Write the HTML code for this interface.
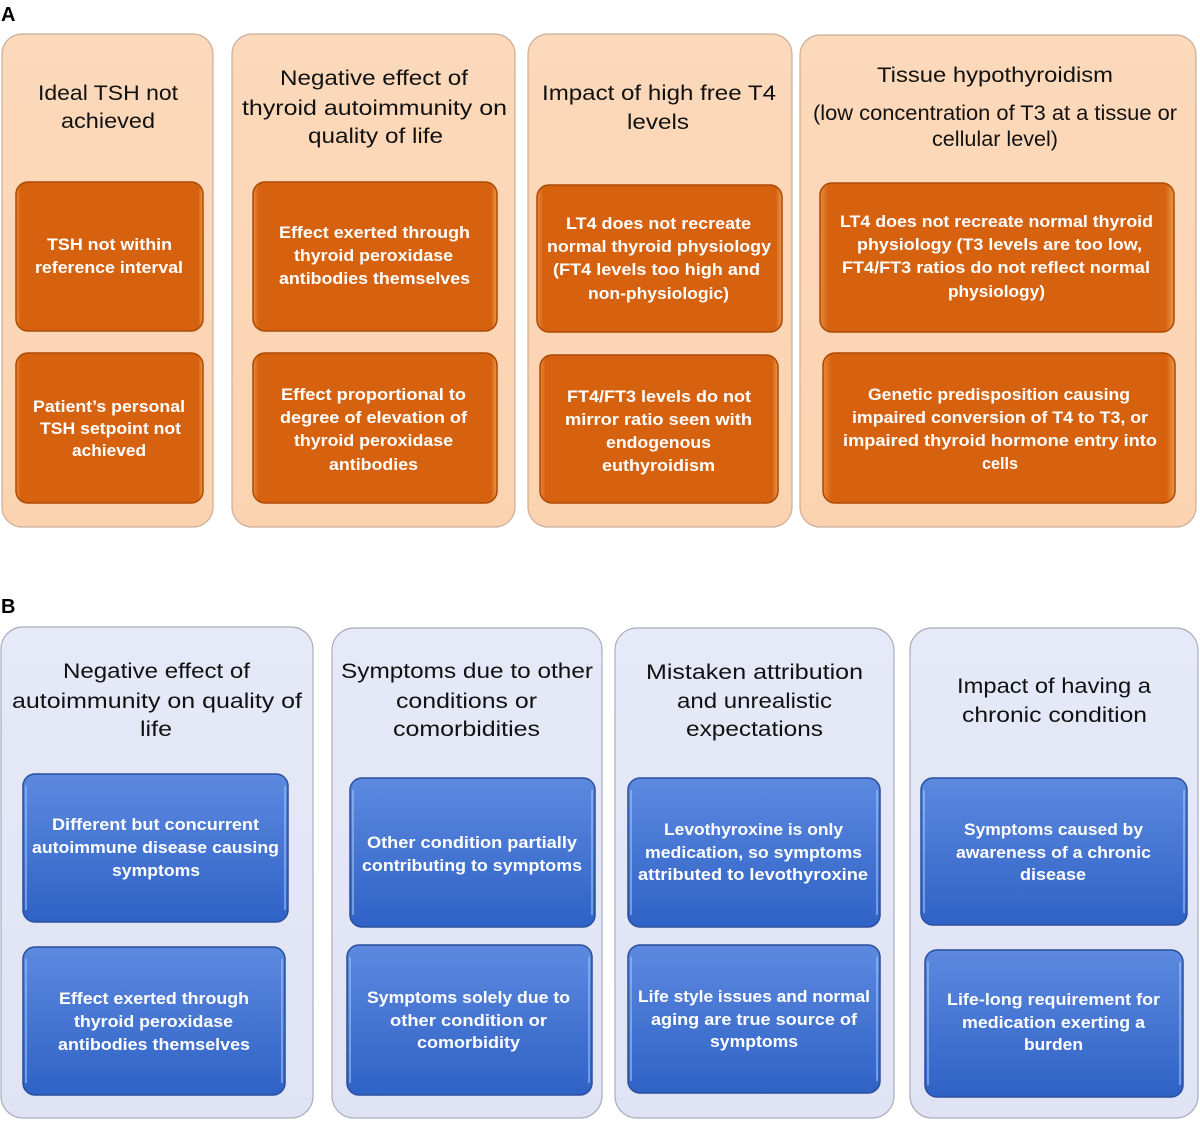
<!DOCTYPE html>
<html><head><meta charset="utf-8"><style>
html,body{margin:0;padding:0;background:#fff;}
svg{display:block;}
.h{font-family:"Liberation Sans",sans-serif;font-size:21px;fill:#111;}
.t{font-family:"Liberation Sans",sans-serif;font-size:17px;font-weight:bold;fill:#fff;}
.lbl{font-family:"Liberation Sans",sans-serif;font-size:20px;font-weight:bold;fill:#000;}
</style></head><body>
<svg width="1200" height="1126" viewBox="0 0 1200 1126" xmlns="http://www.w3.org/2000/svg">
<defs>
<linearGradient id="og" x1="0" y1="0" x2="1" y2="0">
<stop offset="0" stop-color="#e98a3c"/><stop offset="0.025" stop-color="#d6610f"/><stop offset="0.975" stop-color="#d6610f"/><stop offset="1" stop-color="#eb9a48"/>
</linearGradient>
<linearGradient id="bg" x1="0" y1="0" x2="0" y2="1">
<stop offset="0" stop-color="#5d89df"/><stop offset="1" stop-color="#2f62c6"/>
</linearGradient>
<linearGradient id="pg" x1="0" y1="0" x2="0" y2="1">
<stop offset="0" stop-color="#fcd9bb"/><stop offset="1" stop-color="#fbd3b0"/>
</linearGradient>
<linearGradient id="lg" x1="0" y1="0" x2="0" y2="1">
<stop offset="0" stop-color="#e6e9f7"/><stop offset="1" stop-color="#dfe3f4"/>
</linearGradient>
</defs>

<text class="lbl" x="1" y="21">A</text>
<text class="lbl" x="1" y="613">B</text>

<!-- Panel A outer -->
<g fill="url(#pg)" stroke="#c9ad98" stroke-width="1.2">
<rect x="2" y="34" width="211" height="493" rx="20"/>
<rect x="232" y="34" width="283" height="493" rx="20"/>
<rect x="528" y="34" width="264" height="493" rx="20"/>
<rect x="800" y="35" width="396" height="492" rx="20"/>
</g>
<!-- Panel A inner -->
<g fill="url(#og)" stroke="#a94a07" stroke-width="1.5">
<rect x="16" y="182" width="187" height="149" rx="12"/>
<rect x="16" y="353" width="187" height="150" rx="12"/>
<rect x="253" y="182" width="244" height="149" rx="12"/>
<rect x="253" y="353" width="244" height="150" rx="12"/>
<rect x="537" y="185" width="245" height="147" rx="12"/>
<rect x="540" y="355" width="238" height="148" rx="12"/>
<rect x="820" y="183" width="354" height="149" rx="12"/>
<rect x="823" y="353" width="352" height="150" rx="12"/>
</g>

<!-- Panel B outer -->
<g fill="url(#lg)" stroke="#a9adbd" stroke-width="1.2">
<rect x="1" y="627" width="312" height="491" rx="22"/>
<rect x="332" y="628" width="270" height="490" rx="22"/>
<rect x="615" y="628" width="279" height="490" rx="22"/>
<rect x="910" y="628" width="288" height="490" rx="22"/>
</g>
<!-- Panel B inner -->
<g fill="url(#bg)" stroke="#2a4f9c" stroke-width="1.5">
<rect x="23" y="774" width="265" height="148" rx="12"/>
<rect x="23" y="947" width="262" height="148" rx="12"/>
<rect x="350" y="778" width="245" height="149" rx="12"/>
<rect x="347" y="945" width="245" height="150" rx="12"/>
<rect x="628" y="778" width="252" height="149" rx="12"/>
<rect x="628" y="945" width="252" height="148" rx="12"/>
<rect x="921" y="778" width="266" height="147" rx="12"/>
<rect x="925" y="950" width="258" height="147" rx="12"/>
</g>
<g fill="none" stroke="#9cc0f5" stroke-width="1.5" opacity="0.8">
<line x1="26" y1="786" x2="26" y2="910"/><line x1="285" y1="786" x2="285" y2="910"/>
<line x1="26" y1="959" x2="26" y2="1083"/><line x1="282" y1="959" x2="282" y2="1083"/>
<line x1="353" y1="790" x2="353" y2="915"/><line x1="592" y1="790" x2="592" y2="915"/>
<line x1="350" y1="957" x2="350" y2="1083"/><line x1="589" y1="957" x2="589" y2="1083"/>
<line x1="631" y1="790" x2="631" y2="915"/><line x1="877" y1="790" x2="877" y2="915"/>
<line x1="631" y1="957" x2="631" y2="1081"/><line x1="877" y1="957" x2="877" y2="1081"/>
<line x1="924" y1="790" x2="924" y2="913"/><line x1="1184" y1="790" x2="1184" y2="913"/>
<line x1="928" y1="962" x2="928" y2="1085"/><line x1="1180" y1="962" x2="1180" y2="1085"/>
</g>

<g text-anchor="middle" lengthAdjust="spacingAndGlyphs">
<!-- A headers -->
<text class="h" x="108" y="100" textLength="140" lengthAdjust="spacingAndGlyphs">Ideal TSH not</text>
<text class="h" x="108" y="128" textLength="94" lengthAdjust="spacingAndGlyphs">achieved</text>
<text class="h" x="374" y="85" textLength="188" lengthAdjust="spacingAndGlyphs">Negative effect of</text>
<text class="h" x="374.5" y="115" textLength="265" lengthAdjust="spacingAndGlyphs">thyroid autoimmunity on</text>
<text class="h" x="375.5" y="143" textLength="135" lengthAdjust="spacingAndGlyphs">quality of life</text>
<text class="h" x="659" y="100" textLength="234" lengthAdjust="spacingAndGlyphs">Impact of high free T4</text>
<text class="h" x="658" y="129" textLength="62" lengthAdjust="spacingAndGlyphs">levels</text>
<text class="h" x="995" y="82" textLength="236" lengthAdjust="spacingAndGlyphs">Tissue hypothyroidism</text>
<text class="h" x="995" y="120" textLength="364" lengthAdjust="spacingAndGlyphs">(low concentration of T3 at a tissue or</text>
<text class="h" x="995" y="146" textLength="126" lengthAdjust="spacingAndGlyphs">cellular level)</text>

<!-- A inner -->
<text class="t" x="109.5" y="250" textLength="125" lengthAdjust="spacingAndGlyphs">TSH not within</text>
<text class="t" x="109" y="273" textLength="148" lengthAdjust="spacingAndGlyphs">reference interval</text>
<text class="t" x="109" y="412" textLength="152" lengthAdjust="spacingAndGlyphs">Patient’s personal</text>
<text class="t" x="110.5" y="434" textLength="141" lengthAdjust="spacingAndGlyphs">TSH setpoint not</text>
<text class="t" x="109" y="456" textLength="74" lengthAdjust="spacingAndGlyphs">achieved</text>

<text class="t" x="374.5" y="238" textLength="191" lengthAdjust="spacingAndGlyphs">Effect exerted through</text>
<text class="t" x="373.5" y="261" textLength="159" lengthAdjust="spacingAndGlyphs">thyroid peroxidase</text>
<text class="t" x="374.5" y="284" textLength="191" lengthAdjust="spacingAndGlyphs">antibodies themselves</text>
<text class="t" x="373.5" y="400" textLength="185" lengthAdjust="spacingAndGlyphs">Effect proportional to</text>
<text class="t" x="373.5" y="423" textLength="187" lengthAdjust="spacingAndGlyphs">degree of elevation of</text>
<text class="t" x="373.5" y="446" textLength="159" lengthAdjust="spacingAndGlyphs">thyroid peroxidase</text>
<text class="t" x="373.5" y="470" textLength="89" lengthAdjust="spacingAndGlyphs">antibodies</text>

<text class="t" x="658.5" y="229" textLength="185" lengthAdjust="spacingAndGlyphs">LT4 does not recreate</text>
<text class="t" x="659" y="252" textLength="224" lengthAdjust="spacingAndGlyphs">normal thyroid physiology</text>
<text class="t" x="656.5" y="275" textLength="207" lengthAdjust="spacingAndGlyphs">(FT4 levels too high and</text>
<text class="t" x="658.5" y="299" textLength="141" lengthAdjust="spacingAndGlyphs">non-physiologic)</text>
<text class="t" x="659" y="402" textLength="184" lengthAdjust="spacingAndGlyphs">FT4/FT3 levels do not</text>
<text class="t" x="658.5" y="425" textLength="187" lengthAdjust="spacingAndGlyphs">mirror ratio seen with</text>
<text class="t" x="658.5" y="448" textLength="105" lengthAdjust="spacingAndGlyphs">endogenous</text>
<text class="t" x="658.5" y="471" textLength="113" lengthAdjust="spacingAndGlyphs">euthyroidism</text>

<text class="t" x="996.5" y="227" textLength="313" lengthAdjust="spacingAndGlyphs">LT4 does not recreate normal thyroid</text>
<text class="t" x="999.5" y="250" textLength="285" lengthAdjust="spacingAndGlyphs">physiology (T3 levels are too low,</text>
<text class="t" x="996" y="273" textLength="308" lengthAdjust="spacingAndGlyphs">FT4/FT3 ratios do not reflect normal</text>
<text class="t" x="996.5" y="297" textLength="97" lengthAdjust="spacingAndGlyphs">physiology)</text>
<text class="t" x="999" y="400" textLength="262" lengthAdjust="spacingAndGlyphs">Genetic predisposition causing</text>
<text class="t" x="1000" y="423" textLength="296" lengthAdjust="spacingAndGlyphs">impaired conversion of T4 to T3, or</text>
<text class="t" x="1000" y="446" textLength="314" lengthAdjust="spacingAndGlyphs">impaired thyroid hormone entry into</text>
<text class="t" x="1000" y="469" textLength="36" lengthAdjust="spacingAndGlyphs">cells</text>

<!-- B headers -->
<text class="h" x="156.5" y="678" textLength="187" lengthAdjust="spacingAndGlyphs">Negative effect of</text>
<text class="h" x="157" y="708" textLength="290" lengthAdjust="spacingAndGlyphs">autoimmunity on quality of</text>
<text class="h" x="156" y="736" textLength="32" lengthAdjust="spacingAndGlyphs">life</text>
<text class="h" x="467" y="678" textLength="252" lengthAdjust="spacingAndGlyphs">Symptoms due to other</text>
<text class="h" x="466.5" y="708" textLength="141" lengthAdjust="spacingAndGlyphs">conditions or</text>
<text class="h" x="466.5" y="736" textLength="147" lengthAdjust="spacingAndGlyphs">comorbidities</text>
<text class="h" x="754.5" y="679" textLength="217" lengthAdjust="spacingAndGlyphs">Mistaken attribution</text>
<text class="h" x="754.5" y="708" textLength="155" lengthAdjust="spacingAndGlyphs">and unrealistic</text>
<text class="h" x="754.5" y="736" textLength="137" lengthAdjust="spacingAndGlyphs">expectations</text>
<text class="h" x="1054" y="693" textLength="194" lengthAdjust="spacingAndGlyphs">Impact of having a</text>
<text class="h" x="1054.5" y="722" textLength="185" lengthAdjust="spacingAndGlyphs">chronic condition</text>

<!-- B inner -->
<text class="t" x="155.5" y="830" textLength="207" lengthAdjust="spacingAndGlyphs">Different but concurrent</text>
<text class="t" x="155.5" y="853" textLength="247" lengthAdjust="spacingAndGlyphs">autoimmune disease causing</text>
<text class="t" x="156" y="876" textLength="88" lengthAdjust="spacingAndGlyphs">symptoms</text>
<text class="t" x="154" y="1004" textLength="190" lengthAdjust="spacingAndGlyphs">Effect exerted through</text>
<text class="t" x="153.5" y="1027" textLength="159" lengthAdjust="spacingAndGlyphs">thyroid peroxidase</text>
<text class="t" x="154" y="1050" textLength="192" lengthAdjust="spacingAndGlyphs">antibodies themselves</text>

<text class="t" x="472" y="848" textLength="210" lengthAdjust="spacingAndGlyphs">Other condition partially</text>
<text class="t" x="472" y="871" textLength="220" lengthAdjust="spacingAndGlyphs">contributing to symptoms</text>
<text class="t" x="468.5" y="1003" textLength="203" lengthAdjust="spacingAndGlyphs">Symptoms solely due to</text>
<text class="t" x="468.5" y="1026" textLength="157" lengthAdjust="spacingAndGlyphs">other condition or</text>
<text class="t" x="468.5" y="1048" textLength="103" lengthAdjust="spacingAndGlyphs">comorbidity</text>

<text class="t" x="753.5" y="835" textLength="179" lengthAdjust="spacingAndGlyphs">Levothyroxine is only</text>
<text class="t" x="753.5" y="858" textLength="217" lengthAdjust="spacingAndGlyphs">medication, so symptoms</text>
<text class="t" x="753" y="880" textLength="230" lengthAdjust="spacingAndGlyphs">attributed to levothyroxine</text>
<text class="t" x="754" y="1002" textLength="232" lengthAdjust="spacingAndGlyphs">Life style issues and normal</text>
<text class="t" x="754" y="1025" textLength="206" lengthAdjust="spacingAndGlyphs">aging are true source of</text>
<text class="t" x="754" y="1047" textLength="88" lengthAdjust="spacingAndGlyphs">symptoms</text>

<text class="t" x="1053.5" y="835" textLength="179" lengthAdjust="spacingAndGlyphs">Symptoms caused by</text>
<text class="t" x="1053.5" y="858" textLength="195" lengthAdjust="spacingAndGlyphs">awareness of a chronic</text>
<text class="t" x="1053" y="880" textLength="66" lengthAdjust="spacingAndGlyphs">disease</text>
<text class="t" x="1053.5" y="1005" textLength="213" lengthAdjust="spacingAndGlyphs">Life-long requirement for</text>
<text class="t" x="1053.5" y="1028" textLength="183" lengthAdjust="spacingAndGlyphs">medication exerting a</text>
<text class="t" x="1053.5" y="1050" textLength="59" lengthAdjust="spacingAndGlyphs">burden</text>
</g>
</svg>
</body></html>
